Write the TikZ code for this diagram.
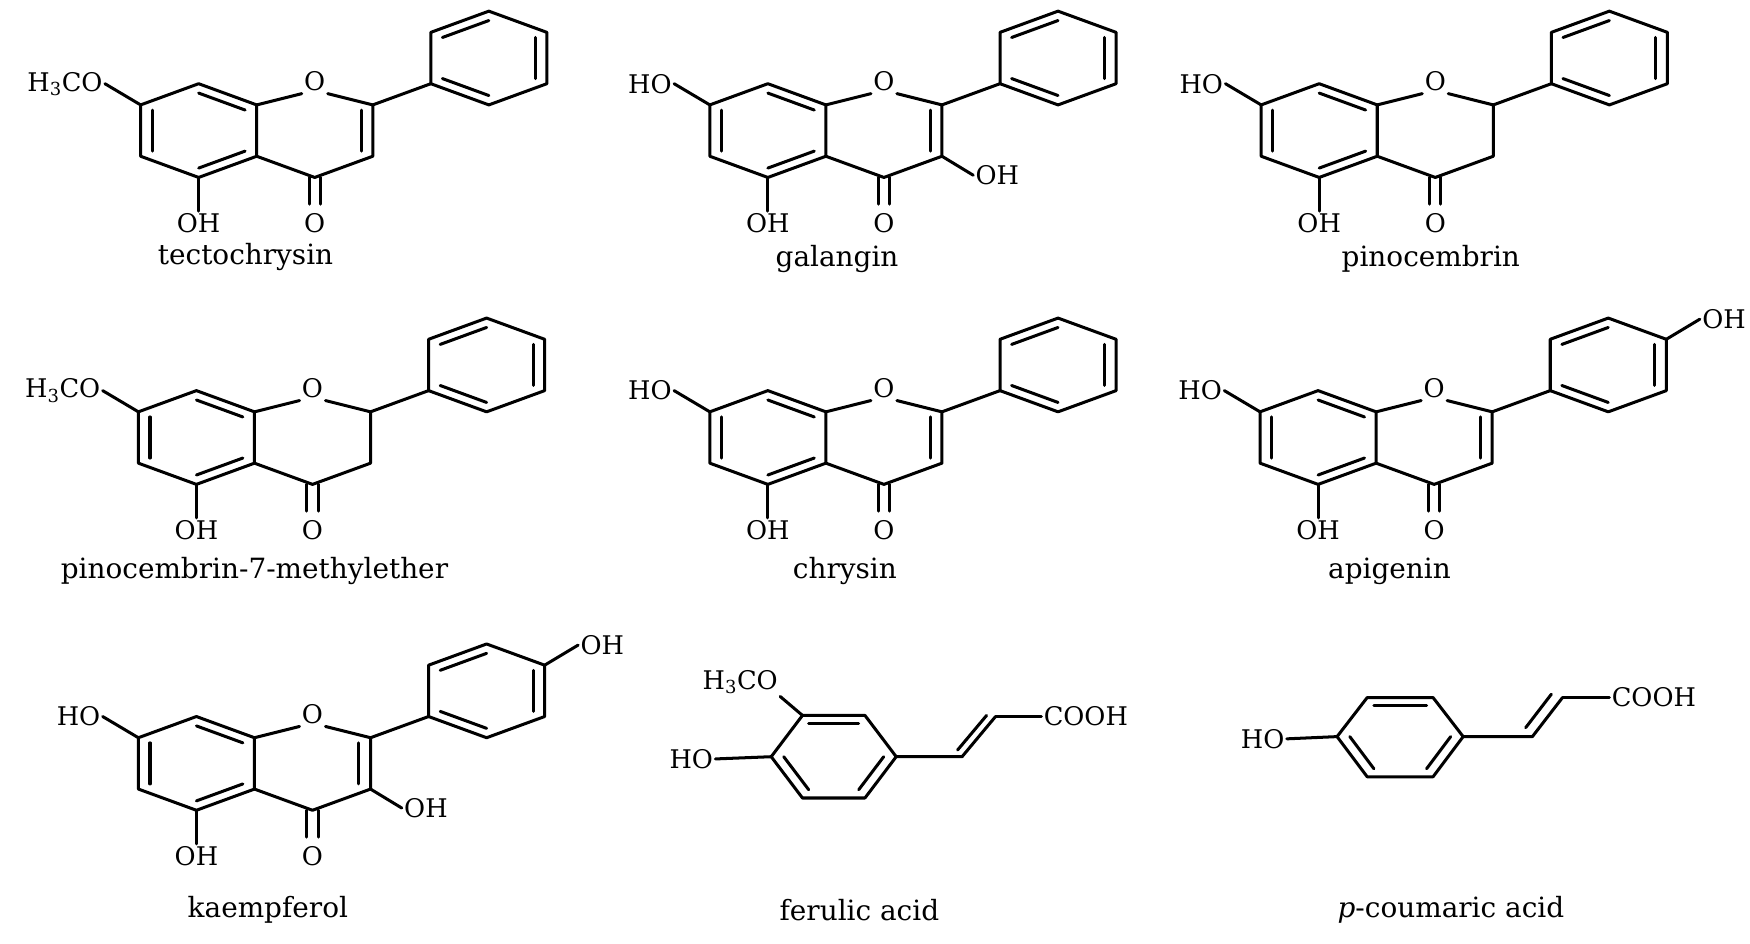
\documentclass[tikz,border=0pt]{standalone}
\usepackage{fontspec}
\setmainfont{DejaVu Serif}
\usetikzlibrary{calc}
\tikzset{
  bond/.style={line width=2.7pt, line cap=round, line join=round},
  lab/.style={font=\fontsize{23}{23}\selectfont, inner sep=2pt},
  cname/.style={font=\fontsize{25}{25}\selectfont, inner sep=0pt}
}
\newcommand\innerbond[3]{\draw[bond] ($(#1)!0.2!(#3)$) -- ($(#2)!0.2!(#3)$);}
% #1 prefix, #2 1=flavone 0=flavanone, #3 7-substituent
\newcommand\flav[3]{%
\coordinate (#1a1) at (0,-42);
\coordinate (#1a2) at (52,-23);
\coordinate (#1a3) at (52,23);
\coordinate (#1a4) at (0,42);
\coordinate (#1a5) at (-52,23);
\coordinate (#1a6) at (-52,-23);
\coordinate (#1ac) at (0,0);
\coordinate (#1c2) at (156,-23);
\coordinate (#1c3) at (156,23);
\coordinate (#1c4) at (104,42);
\coordinate (#1cc) at (104,0);
\node[lab] (#1O) at (104,-44) {O};
\draw[bond] (#1a1)--(#1a2)--(#1a3)--(#1a4)--(#1a5)--(#1a6)--cycle;
\draw[bond] (#1a2)--(#1O.south west);
\draw[bond] (#1O.south east)--(#1c2)--(#1c3)--(#1c4)--(#1a3);
\innerbond{#1a6}{#1a5}{#1ac}\innerbond{#1a1}{#1a2}{#1ac}\innerbond{#1a3}{#1a4}{#1ac}
\ifnum#2=1 \innerbond{#1c2}{#1c3}{#1cc}\fi
\node[lab] (#1oh5) at (0,83) {OH};
\draw[bond] (#1a4)--(#1oh5.north);
\node[lab] (#1o4) at (104,83) {O};
\coordinate (#1c4l) at (99,42); \coordinate (#1c4r) at (109,42);
\coordinate (#1o4l) at (99,66); \coordinate (#1o4r) at (109,66);
\draw[bond] (#1c4l)--(#1o4l) (#1c4r)--(#1o4r);
\node[lab,anchor=east] (#1s7) at (-84,-42) {#3};
\draw[bond] (#1a6)--(#1s7.east);
\coordinate (#1b1) at (208,-42);
\coordinate (#1b2) at (208,-88);
\coordinate (#1b3) at (260,-107);
\coordinate (#1b4) at (312,-88);
\coordinate (#1b5) at (312,-42);
\coordinate (#1b6) at (260,-23);
\coordinate (#1bc) at (260,-65);
\draw[bond] (#1c2)--(#1b1);
\draw[bond] (#1b1)--(#1b2)--(#1b3)--(#1b4)--(#1b5)--(#1b6)--cycle;
\innerbond{#1b2}{#1b3}{#1bc}\innerbond{#1b4}{#1b5}{#1bc}\innerbond{#1b6}{#1b1}{#1bc}
}
\newcommand\ohthree[1]{\node[lab,anchor=west] (#1oh3) at (184,40) {OH}; \draw[bond] (#1c3)--(#1oh3.west);}
\newcommand\ohfour[1]{\node[lab,anchor=west] (#1oh4) at (342,-106) {OH}; \draw[bond] (#1b4)--(#1oh4.west);}
\begin{document}
\begin{tikzpicture}[x=1pt,y=-1pt]
\useasboundingbox (0,0) rectangle (1568,845);
\fill[white] (0,0) rectangle (1568,845);
% row 1
\begin{scope}[shift={(178,117)}] \flav{t}{1}{H\textsubscript{3}CO} \end{scope}
\begin{scope}[shift={(688,117)}] \flav{g}{1}{HO} \ohthree{g} \end{scope}
\begin{scope}[shift={(1182,117)}] \flav{p}{0}{HO} \end{scope}
% row 2
\begin{scope}[shift={(176,392)}] \flav{m}{0}{H\textsubscript{3}CO} \end{scope}
\begin{scope}[shift={(688,392)}] \flav{c}{1}{HO} \end{scope}
\begin{scope}[shift={(1181,392)}] \flav{a}{1}{HO} \ohfour{a} \end{scope}
% row 3
\begin{scope}[shift={(176,684)}] \flav{k}{1}{HO} \ohthree{k} \ohfour{k} \end{scope}
% names
\node[cname] (n1) at (220,230) {tectochrysin};
\node[cname] (n2) at (750,232) {galangin};
\node[cname] (n3) at (1282,232) {pinocembrin};
\node[cname] (n4) at (228,512) {pinocembrin-7-methylether};
\node[cname] (n5) at (757,512) {chrysin};
\node[cname] (n6) at (1245,512) {apigenin};
\node[cname] (n7) at (240,815) {kaempferol};
\node[cname] (n8) at (770,815) {ferulic acid};
\node[cname] (n9) at (1300,815) {\textit{p}-coumaric acid};
% ferulic acid
\begin{scope}[shift={(747,678)}]
\coordinate (f1) at (-56,0); \coordinate (f2) at (-28,-37); \coordinate (f3) at (28,-37);
\coordinate (f4) at (56,0); \coordinate (f5) at (28,37); \coordinate (f6) at (-28,37);
\coordinate (fc) at (0,0);
\draw[bond] (f1)--(f2)--(f3)--(f4)--(f5)--(f6)--cycle;
\innerbond{f2}{f3}{fc}\innerbond{f4}{f5}{fc}\innerbond{f6}{f1}{fc}
\node[lab,anchor=east] (fho) at (-106,2) {HO};
\draw[bond] (f1)--(fho.east);
\node[lab,anchor=south east] (fome) at (-48,-54) {H\textsubscript{3}CO};
\draw[bond] (f2)--(fome.south east);
\coordinate (fk1) at (115,0); \coordinate (fk2) at (145,-36);
\draw[bond] (f4)--(fk1)--(fk2);
\coordinate (fk1b) at (111,-6); \coordinate (fk2b) at (137,-37);
\draw[bond] (fk1b)--(fk2b);
\node[lab,anchor=west] (fcooh) at (186,-36) {COOH};
\draw[bond] (fk2)--(fcooh.west);
\end{scope}
% p-coumaric acid
\begin{scope}[shift={(1255,660)}]
\coordinate (q1) at (-57,0); \coordinate (q2) at (-30,-35); \coordinate (q3) at (29,-35);
\coordinate (q4) at (56,0); \coordinate (q5) at (29,36); \coordinate (q6) at (-30,36);
\coordinate (qc) at (0,0);
\draw[bond] (q1)--(q2)--(q3)--(q4)--(q5)--(q6)--cycle;
\innerbond{q2}{q3}{qc}\innerbond{q4}{q5}{qc}\innerbond{q6}{q1}{qc}
\node[lab,anchor=east] (qho) at (-102,2) {HO};
\draw[bond] (q1)--(qho.east);
\coordinate (qk1) at (118,0); \coordinate (qk2) at (145,-35);
\draw[bond] (q4)--(qk1)--(qk2);
\coordinate (qk1b) at (112,-8); \coordinate (qk2b) at (135,-38);
\draw[bond] (qk1b)--(qk2b);
\node[lab,anchor=west] (qcooh) at (187,-35) {COOH};
\draw[bond] (qk2)--(qcooh.west);
\end{scope}
\end{tikzpicture}
\end{document}
